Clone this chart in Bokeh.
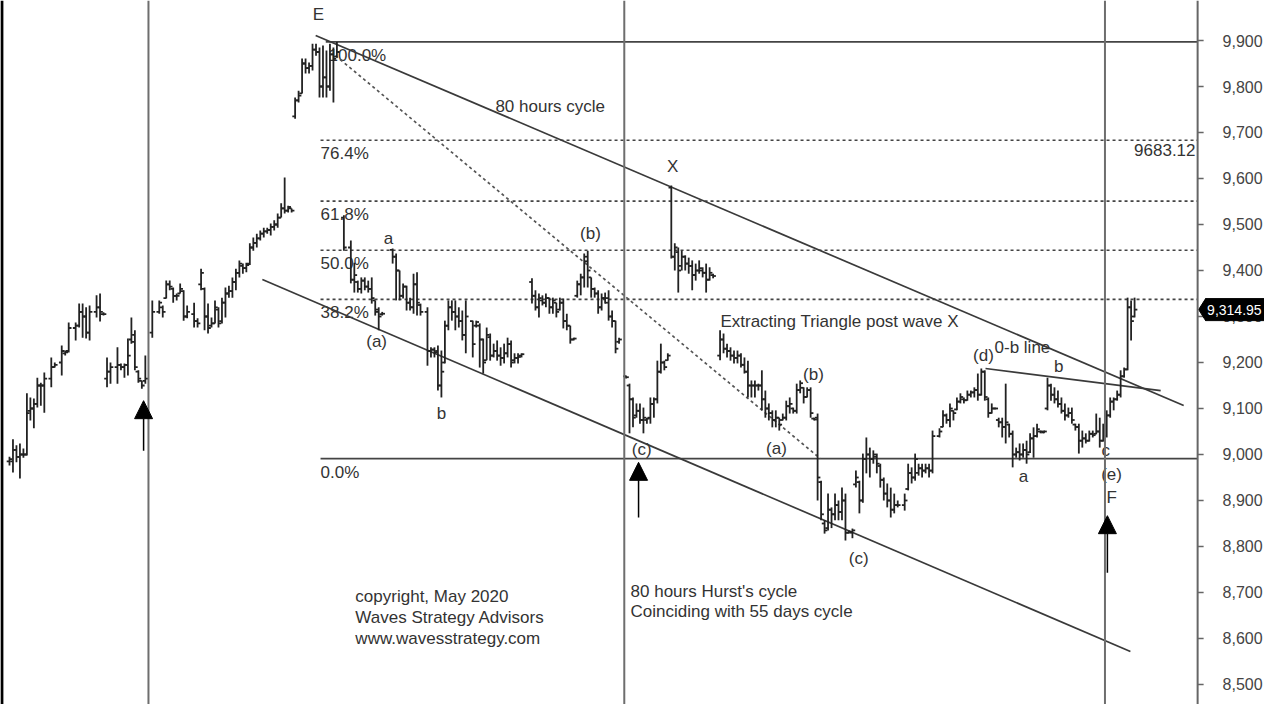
import numpy as np
from bokeh.plotting import figure
from bokeh.models import Range1d, Span, Arrow, NormalHead
from bokeh.core.properties import value
from bokeh.embed import file_html
from bokeh.resources import INLINE

# ---------------- data: hourly bars (bar slot, open, high, low, close) ----------------
t = [0, 1, 2, 3, 4, 5, 6, 7, 8, 9, 10, 12, 13, 15, 16, 17, 19, 20, 21, 22, 23, 25, 26, 27,
     28, 29, 31, 32, 33, 34, 35, 36, 37, 38, 39,
     41, 43, 44, 45, 46, 47, 48, 49, 50, 51, 53, 54,
     55, 56, 57, 58, 59, 60, 61, 62, 63, 64, 65, 66, 67, 68, 69, 70, 71, 72, 73, 74, 75, 76, 77, 78, 79, 80, 81,
     82, 83, 84, 85, 86, 87, 88, 89, 90, 91, 92, 93, 94,
     96, 98, 99, 100, 101, 102, 103, 104, 105, 106, 107,
     110, 111, 112, 113, 114, 115, 116, 117, 118, 120, 121, 122, 123, 124, 125, 126, 127, 128, 129, 130, 131,
     133, 134, 135, 136, 137, 138, 139, 140, 141, 142, 143, 144, 145, 146, 147,
     150, 151, 152, 153, 154, 155, 156, 157, 158, 159, 160, 161, 162,
     163, 164, 165, 166, 167, 168, 169, 170, 171, 172, 173, 174, 175,
     177, 178, 179, 180, 181, 182, 183, 184, 185, 186, 187, 188, 189,
     190, 191, 192, 193, 194, 195, 196, 197, 198, 199, 200, 201, 202,
     204, 205, 206, 207, 208, 209, 210, 211, 212, 213, 214, 215, 216, 217, 218, 219, 220, 221, 222, 223,
     224, 225, 226, 227, 228, 229, 230, 231, 232, 233, 234, 235, 236, 237, 238, 239, 240, 241, 242,
     243, 244, 245, 246, 247, 248, 249, 250, 251, 252, 253, 254, 255,
     257, 258, 259, 260, 261, 262, 263, 264, 265,
     267, 268, 269, 270, 271, 272, 273, 274, 275, 276, 277, 278, 279, 280, 281, 282, 283, 284, 285, 286,
     287, 288, 289, 290, 291, 292, 293, 294, 295, 296, 297,
     298, 299, 300, 301, 302, 303, 304, 305, 306, 307, 308, 309, 310, 311, 312, 313, 314, 315, 316, 317,
     318, 319, 320, 321, 322, 323]

o = [8985, 8985, 9010, 8995, 9000, 9000, 9095, 9100, 9110, 9150, 9150, 9165, 9190, 9200, 9220, 9225, 9275, 9280, 9310, 9300, 9265, 9310, 9320, 9305,
     9165, 9180, 9190, 9195, 9190, 9195, 9250, 9260, 9180, 9160, 9160,
     9265, 9310, 9320, 9340, 9370, 9360, 9345, 9350, 9355, 9300, 9305, 9290,
     9370, 9360, 9300, 9280, 9285, 9315, 9290, 9330, 9350, 9355, 9375, 9395, 9410, 9405, 9415, 9450, 9460, 9470, 9480, 9485, 9488, 9495, 9500, 9515, 9535, 9530, 9535,
     9735, 9770, 9785, 9850, 9840, 9845, 9880, 9875, 9800, 9820, 9800, 9870, 9865,
     9515, 9450, 9380, 9375, 9360, 9378, 9365, 9360, 9335, 9315, 9305,
     9445, 9430, 9400, 9345, 9365, 9330, 9320, 9370, 9325, 9310, 9225, 9228, 9225, 9150, 9200, 9280, 9320, 9310, 9300, 9290, 9260,
     9290, 9280, 9280, 9250, 9205, 9255, 9215, 9225, 9215, 9210, 9220, 9240, 9205, 9210, 9215,
     9375, 9345, 9320, 9335, 9330, 9340, 9320, 9330, 9315, 9330, 9290, 9280, 9250,
     9345, 9370, 9385, 9430, 9385, 9360, 9350, 9320, 9340, 9340, 9300, 9290, 9245,
     9170, 9150, 9120, 9085, 9095, 9075, 9075, 9080, 9110, 9120, 9180, 9200, 9205,
     9580, 9430, 9440, 9410, 9430, 9415, 9410, 9390, 9400, 9400, 9395, 9380, 9390,
     9215, 9250, 9230, 9225, 9215, 9210, 9215, 9195, 9180, 9150, 9150, 9150, 9150, 9120, 9100, 9090, 9075, 9080, 9075, 9080,
     9105, 9100, 9095, 9140, 9145, 9125, 9140, 9078, 9080, 8940, 8850, 8840, 8880, 8870, 8890, 8875, 8900, 8830, 8830,
     8935, 8940, 8900, 8990, 9000, 8990, 8995, 8975, 8945, 8915, 8900, 8880, 8890,
     8890, 8925, 8960, 8950, 8960, 8970, 8965, 8970, 8965,
     9040, 9060, 9085, 9075, 9095, 9098, 9115, 9120, 9118, 9130, 9135, 9140, 9130, 9180, 9120, 9090, 9100, 9075, 9070, 9060,
     9065, 9045, 9000, 9005, 9000, 9010, 9005, 9035, 9040, 9050, 9048,
     9100, 9150, 9130, 9120, 9110, 9095, 9085, 9090, 9065, 9060, 9030, 9035, 9030, 9045, 9045, 9050, 9030, 9040, 9085, 9115,
     9120, 9130, 9170, 9185, 9320, 9300]

h = [8995, 9033, 9020, 9024, 9013, 9133, 9124, 9122, 9167, 9156, 9178, 9211, 9200, 9237, 9226, 9287, 9287, 9328, 9328, 9320, 9324, 9346, 9350, 9309,
     9211, 9200, 9233, 9198, 9198, 9252, 9298, 9270, 9183, 9160, 9215,
     9335, 9335, 9324, 9378, 9378, 9363, 9350, 9372, 9357, 9324, 9330, 9296,
     9404, 9363, 9328, 9298, 9335, 9320, 9341, 9363, 9367, 9385, 9404, 9422, 9415, 9417, 9459, 9472, 9480, 9487, 9493, 9493, 9502, 9509, 9524, 9546, 9602, 9541, 9535,
     9776, 9791, 9861, 9861, 9852, 9893, 9893, 9885, 9889, 9878, 9893, 9885, 9897,
     9520, 9465, 9417, 9378, 9385, 9385, 9378, 9385, 9335, 9320, 9310,
     9448, 9437, 9400, 9372, 9367, 9341, 9393, 9396, 9328, 9320, 9233, 9233, 9237, 9226, 9291, 9335, 9335, 9335, 9320, 9313, 9335,
     9291, 9291, 9285, 9252, 9276, 9263, 9241, 9248, 9233, 9241, 9254, 9248, 9220, 9220, 9220,
     9383, 9357, 9350, 9346, 9350, 9341, 9341, 9330, 9341, 9339, 9306, 9280, 9254,
     9378, 9393, 9437, 9443, 9385, 9363, 9357, 9350, 9352, 9357, 9313, 9291, 9254,
     9172, 9154, 9124, 9111, 9111, 9102, 9080, 9124, 9124, 9204, 9241, 9204, 9220,
     9585, 9459, 9450, 9443, 9433, 9428, 9422, 9415, 9422, 9407, 9415, 9407, 9393,
     9270, 9263, 9241, 9233, 9226, 9226, 9220, 9211, 9204, 9161, 9161, 9154, 9183, 9139, 9111, 9096, 9096, 9080, 9089, 9117,
     9124, 9102, 9154, 9161, 9146, 9146, 9146, 9080, 9089, 8943, 8857, 8915, 8885, 8915, 8900, 8928, 8915, 8835, 8839,
     8965, 8943, 9002, 9037, 9015, 9009, 9002, 8980, 8950, 8937, 8928, 8915, 8900,
     8915, 8980, 8972, 9002, 8980, 8980, 8980, 8980, 9052,
     9057, 9096, 9089, 9111, 9096, 9124, 9133, 9124, 9139, 9139, 9146, 9176, 9187, 9183, 9124, 9111, 9102, 9080, 9080, 9154,
     9067, 9052, 9015, 9024, 9024, 9030, 9046, 9059, 9067, 9052, 9052,
     9167, 9154, 9146, 9139, 9124, 9111, 9102, 9102, 9067, 9067, 9052, 9046, 9052, 9052, 9089, 9080, 9067, 9096, 9124, 9124,
     9139, 9183, 9189, 9341, 9335, 9341]

l = [8976, 8961, 8983, 8948, 8993, 8998, 9074, 9057, 9102, 9106, 9091, 9146, 9189, 9172, 9215, 9222, 9248, 9276, 9254, 9252, 9248, 9298, 9289, 9302,
     9146, 9154, 9154, 9183, 9167, 9172, 9241, 9183, 9156, 9143, 9154,
     9254, 9306, 9298, 9339, 9357, 9330, 9335, 9350, 9291, 9296, 9276, 9276,
     9357, 9270, 9263, 9276, 9285, 9276, 9285, 9298, 9341, 9341, 9357, 9385, 9393, 9396, 9412, 9443, 9450, 9465, 9472, 9480, 9476, 9487, 9493, 9515, 9524, 9526, 9526,
     9730, 9765, 9785, 9828, 9828, 9835, 9867, 9776, 9776, 9776, 9791, 9765, 9863,
     9443, 9372, 9352, 9352, 9350, 9357, 9352, 9328, 9302, 9270, 9302,
     9415, 9335, 9335, 9339, 9313, 9313, 9306, 9302, 9302, 9193, 9211, 9211, 9139, 9124, 9198, 9270, 9291, 9270, 9276, 9248, 9220,
     9211, 9276, 9189, 9176, 9205, 9204, 9211, 9204, 9193, 9198, 9211, 9189, 9198, 9198, 9211,
     9328, 9313, 9298, 9324, 9320, 9306, 9306, 9298, 9313, 9274, 9270, 9241, 9248,
     9341, 9346, 9363, 9363, 9341, 9341, 9306, 9313, 9328, 9291, 9276, 9220, 9241,
     9165, 9046, 9059, 9080, 9067, 9046, 9067, 9067, 9080, 9111, 9176, 9183, 9204,
     9426, 9400, 9352, 9400, 9400, 9393, 9357, 9378, 9393, 9385, 9352, 9378, 9383,
     9205, 9220, 9211, 9204, 9198, 9198, 9189, 9176, 9124, 9124, 9124, 9139, 9096, 9080, 9074, 9059, 9059, 9052, 9074, 9074,
     9089, 9089, 9089, 9133, 9111, 9124, 9080, 9074, 8900, 8857, 8828, 8835, 8840, 8857, 8857, 8857, 8813, 8828, 8818,
     8928, 8872, 8895, 8959, 8950, 8980, 8959, 8928, 8900, 8885, 8863, 8872, 8885,
     8878, 8922, 8937, 8943, 8954, 8950, 8959, 8950, 8959,
     9037, 9059, 9067, 9059, 9074, 9096, 9111, 9111, 9117, 9124, 9124, 9117, 9128, 9117, 9080, 9089, 9098, 9059, 9037, 9024,
     9037, 8972, 8993, 8987, 8993, 8980, 9003, 8993, 9037, 9046, 9046,
     9096, 9117, 9111, 9102, 9089, 9074, 9080, 9067, 9052, 9002, 9015, 9024, 9028, 9037, 9044, 9015, 9028, 9037, 9080, 9096,
     9117, 9124, 9167, 9183, 9248, 9298]

c = [8990, 9010, 8995, 9000, 9000, 9090, 9100, 9110, 9150, 9150, 9165, 9190, 9195, 9225, 9222, 9275, 9280, 9310, 9300, 9265, 9310, 9320, 9310, 9305,
     9180, 9190, 9195, 9190, 9195, 9215, 9245, 9190, 9165, 9150, 9165,
     9310, 9330, 9310, 9370, 9365, 9345, 9345, 9360, 9300, 9310, 9290, 9285,
     9395, 9300, 9275, 9285, 9320, 9285, 9330, 9350, 9355, 9375, 9395, 9415, 9405, 9412, 9450, 9460, 9470, 9480, 9485, 9488, 9495, 9500, 9515, 9535, 9530, 9538, 9530,
     9770, 9780, 9850, 9840, 9845, 9880, 9875, 9800, 9820, 9800, 9870, 9860, 9875,
     9450, 9380, 9390, 9360, 9378, 9365, 9360, 9340, 9310, 9300, 9306,
     9430, 9400, 9345, 9365, 9330, 9320, 9370, 9330, 9310, 9225, 9228, 9222, 9150, 9180, 9280, 9320, 9310, 9300, 9290, 9260, 9300,
     9240, 9288, 9250, 9200, 9260, 9215, 9225, 9215, 9210, 9220, 9240, 9200, 9210, 9212, 9218,
     9345, 9320, 9340, 9330, 9340, 9320, 9335, 9310, 9330, 9290, 9280, 9250, 9252,
     9370, 9385, 9420, 9400, 9360, 9350, 9320, 9340, 9330, 9300, 9290, 9230, 9250,
     9168, 9120, 9080, 9095, 9075, 9080, 9078, 9110, 9120, 9180, 9200, 9190, 9215,
     9430, 9450, 9400, 9430, 9415, 9410, 9390, 9400, 9405, 9395, 9380, 9395, 9388,
     9250, 9230, 9225, 9215, 9210, 9215, 9195, 9180, 9150, 9150, 9150, 9150, 9120, 9100, 9090, 9075, 9080, 9065, 9080, 9105,
     9110, 9095, 9140, 9155, 9125, 9140, 9090, 9076, 8950, 8870, 8835, 8880, 8870, 8890, 8875, 8900, 8830, 8832, 8835,
     8950, 8900, 8990, 9000, 8990, 9000, 8980, 8945, 8915, 8900, 8880, 8890, 8890,
     8900, 8960, 8950, 8990, 8970, 8965, 8970, 8965, 9040,
     9050, 9085, 9075, 9100, 9090, 9115, 9125, 9118, 9130, 9135, 9140, 9130, 9180, 9125, 9090, 9100, 9100, 9070, 9060, 9070,
     9045, 9000, 9005, 9000, 9010, 9000, 9035, 9040, 9055, 9050, 9050,
     9150, 9130, 9120, 9110, 9095, 9085, 9090, 9075, 9060, 9030, 9035, 9030, 9045, 9042, 9050, 9030, 9040, 9085, 9115, 9120,
     9130, 9170, 9185, 9320, 9290, 9314.95]

last_price = "9,314.95"

# price axis ticks
price_ticks = [8500, 8600, 8700, 8800, 8900, 9000, 9100, 9200, 9300, 9400, 9500, 9600, 9700, 9800, 9900]

# Fibonacci retracement (E high to 0% base)
fib_high = 9897
fib_low = 8991
fib_ratios = [1.0, 0.764, 0.618, 0.5, 0.382, 0.0]
fib_names = ["100.0%", "76.4%", "61.8%", "50.0%", "38.2%", "0.0%"]
fib_start = 89.3
fib_value_label = "9683.12"

# trend lines (bar slot, price)
upper_x, upper_y = [87.9, 337.1], [9911, 9106.5]      # 80 hours cycle
lower_x, lower_y = [72.6, 321.8], [9380.4, 8571.7]
diag_x, diag_y = [93.6, 232.8], [9867, 8991]
ob_x, ob_y = [280.2, 330.5], [9187, 9139]             # 0-b line

# cycle verticals and arrows
cycle_slots = [39.9, 176.5, 314.5]
arrow_x = [38.5, 180.6, 315.2]
arrow_tail = [9008, 8863, 8743]
arrow_tip = [9117, 8983, 8867]

# wave labels
wave_text = ["E", "X", "(b)", "a", "(a)", "b", "(c)", "(a)", "(b)", "(c)", "(d)", "0-b line",
             "b", "a", "c", "(e)", "F"]
wave_x = [88.7, 190.4, 166.8, 108.8, 105.4, 124.0, 181.5, 220.2, 230.8, 243.8, 279.6, 290.8,
          301.2, 291.1, 314.7, 316.4, 316.4]
wave_y = [9956.5, 9626, 9480, 9469.5, 9245.6, 9089, 9011, 9013, 9174, 8774, 9215, 9232.6,
          9191, 8952, 9008.7, 8956.5, 8906.5]

note_text = ["80 hours cycle", "Extracting Triangle post wave X",
             "copyright, May 2020", "Waves Strategy Advisors", "www.wavesstrategy.com",
             "80 hours Hurst's cycle", "Coinciding with 55 days cycle"]
note_x = [139.5, 204.1, 99.3, 99.3, 99.3, 178.3, 178.3]
note_y = [9756.5, 9289, 8691, 8645.6, 8600, 8702, 8658.5]

# ---------------- figure ----------------
FONT = "Liberation Sans"
BAR = "#222222"
TXT = "#333333"
LINE = "#3a3a3a"

W, H = 1264, 704
X0, X1 = -2.58, 360.3
Y0, Y1 = 8456.5, 9986.96
PX = (X1 - X0) / W      # slots per pixel
PY = (Y1 - Y0) / H      # price per pixel
AXIS_X = 341.1          # price axis position (slot)

p = figure(width=W, height=H, output_backend="svg", toolbar_location=None,
           x_range=Range1d(X0, X1), y_range=Range1d(Y0, Y1),
           x_axis_location=None, y_axis_location=None,
           min_border_left=0, min_border_top=0, min_border_bottom=0, min_border_right=0)
p.outline_line_color = None
p.xgrid.visible = False
p.ygrid.visible = False
p.background_fill_color = "white"
p.border_fill_color = "white"

# left border of the chart
p.add_layout(Span(location=X0 + 0.4, dimension="height", line_color="black", line_width=3))

# cycle verticals
for s in cycle_slots:
    p.add_layout(Span(location=s, dimension="height", line_color="#6e6e6e", line_width=2))

# fibonacci levels
for r, name in zip(fib_ratios, fib_names):
    lv = fib_low + r * (fib_high - fib_low)
    solid = r in (0.0, 1.0)
    p.segment(x0=[fib_start + (1.5 if r == 1.0 else 0)], y0=[lv], x1=[AXIS_X], y1=[lv],
              line_color="#444444", line_width=1.7, line_dash="solid" if solid else "3 3")
    lx = fib_start + (2.3 if r == 1.0 else 0)
    p.text(x=[lx], y=[lv - 4 * PY], text=[name], text_font=value(FONT), text_font_size="17px",
           text_color=TXT, text_align="left", text_baseline="top")

lv764 = fib_low + 0.764 * (fib_high - fib_low)
p.text(x=[AXIS_X - 0.6], y=[lv764 - 4 * PY], text=[fib_value_label], text_font=value(FONT),
       text_font_size="17px", text_color=TXT, text_align="right", text_baseline="top")

# trend lines
p.line(upper_x, upper_y, line_color=LINE, line_width=1.7)
p.line(lower_x, lower_y, line_color=LINE, line_width=1.7)
p.line(diag_x, diag_y, line_color="#555555", line_width=1.7, line_dash="3 3")
p.line(ob_x, ob_y, line_color=LINE, line_width=1.7)

# OHLC bars
T = np.array(t, dtype=float)
p.segment(x0=T, y0=l, x1=T, y1=h, line_color=BAR, line_width=1.8)
p.segment(x0=T - 0.8, y0=o, x1=T, y1=o, line_color=BAR, line_width=1.8)
p.segment(x0=T, y0=c, x1=T + 0.8, y1=c, line_color=BAR, line_width=1.8)

# arrows
for ax_, y0, y1 in zip(arrow_x, arrow_tail, arrow_tip):
    p.add_layout(Arrow(end=NormalHead(size=18, fill_color="black", line_color="black", line_width=1),
                       x_start=ax_, y_start=y0, x_end=ax_, y_end=y1,
                       line_color="black", line_width=1.5))

# wave labels
p.text(x=wave_x, y=wave_y, text=wave_text, text_font=value(FONT), text_font_size="17px",
       text_color=TXT, text_align="center", text_baseline="middle")

# notes
p.text(x=note_x, y=note_y, text=note_text, text_font=value(FONT), text_font_size="17px",
       text_color=TXT, text_align="left", text_baseline="middle")

# ---------------- price axis (right side) ----------------
p.add_layout(Span(location=AXIS_X, dimension="height", line_color="#666666", line_width=2))
p.segment(x0=[AXIS_X] * len(price_ticks), y0=price_ticks,
          x1=[AXIS_X + 6 * PX] * len(price_ticks), y1=price_ticks,
          line_color="#666666", line_width=1.5)
p.text(x=[AXIS_X + 25 * PX] * len(price_ticks), y=price_ticks,
       text=[f"{v:,}" for v in price_ticks], text_font=value(FONT), text_font_size="16px",
       text_color="#444444", text_align="left", text_baseline="middle")

# last price tag
tag_left = AXIS_X + 8 * PX
p.patch(x=[AXIS_X + 1 * PX, tag_left, tag_left],
        y=[c[-1], c[-1] + 11 * PY, c[-1] - 11 * PY], fill_color="black", line_color="black")
p.quad(left=[tag_left], right=[X1 + 1], bottom=[c[-1] - 11 * PY], top=[c[-1] + 11 * PY],
       fill_color="black", line_color="black")
p.text(x=[tag_left + 1.5 * PX], y=[c[-1]], text=[last_price], text_font=value(FONT),
       text_font_size="14px", text_color="white", text_align="left", text_baseline="middle")

open("out.html", "w").write(file_html(p, INLINE))
